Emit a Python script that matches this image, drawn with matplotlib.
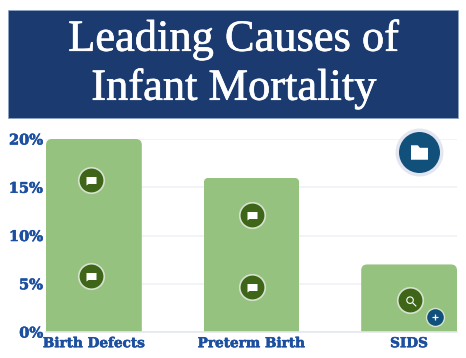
#!/usr/bin/env python3
"""Leading causes of infant mortality, bar chart under a navy header."""
import matplotlib
matplotlib.use("Agg")
import matplotlib.pyplot as plt
import matplotlib.patheffects as pe
from matplotlib.patches import FancyBboxPatch, Rectangle
from matplotlib.path import Path

W, H = 466, 358

causes = ["Birth Defects", "Preterm Birth", "SIDS"]
rates = [20, 16, 7]
y_ticks = [0, 5, 10, 15, 20]
y_labels = ["0%", "5%", "10%", "15%", "20%"]

# annotation badges sitting on the bars
note_x = [-0.02, -0.02, 1, 1]
note_y = [15.75, 5.8, 12.1, 4.65]
search_x, search_y = [2.006], [3.3]
plus_x, plus_y = [2.167], [1.55]
folder_x, folder_y = [2.063], [18.65]

BAR = "#95c27f"
GREEN = "#3f6518"
NAVY = "#12507c"
HEADER = "#1a3a70"
TICK = "#1c4fa0"

# small icon shapes, used as scatter markers
NOTE_ICON = Path([(-1, 0.7), (1, 0.7), (1, -0.7), (-0.6, -0.7), (-1, -1), (-1, 0.7)], closed=True)
FOLDER_ICON = Path([(-1, -0.85), (1, -0.85), (1, 0.55), (0.05, 0.55), (-0.2, 0.85), (-1, 0.85), (-1, -0.85)],
                   closed=True)
HANDLE_ICON = Path([(0.42, -0.42), (1, -1)])

fig = plt.figure(figsize=(W / 100, H / 100), dpi=100, facecolor="white")

# header band
fig.add_artist(Rectangle((7.5 / W, 1 - 118 / H), 450 / W, 108 / H, transform=fig.transFigure,
                         facecolor=HEADER, edgecolor="#8ea3c2", linewidth=0.6))
title = fig.text(234 / W, 1 - 64 / H, "Leading Causes of\nInfant Mortality", color="white",
                 family="Liberation Serif", fontsize=32, ha="center", va="center", linespacing=1.29)
title.set_path_effects([pe.withStroke(linewidth=0.5, foreground="white")])

ax = fig.add_axes([46 / W, 1 - 332 / H, 411 / W, 193 / H])
ax.set_xlim(-0.304, 2.304)
ax.set_ylim(0, 20)
ax.patch.set_alpha(0)
for s in ["top", "right", "left"]:
    ax.spines[s].set_visible(False)
ax.spines["bottom"].set_color("#e4e7ee")
ax.spines["bottom"].set_linewidth(1.2)

ax.set_yticks(y_ticks)
ax.set_yticklabels(y_labels)
ax.set_xticks(range(len(causes)))
ax.set_xticklabels(causes)
ax.tick_params(length=0, labelcolor=TICK, labelsize=10.5)
ax.tick_params(axis="x", pad=3, labelsize=9.8)
ax.tick_params(axis="y", pad=2)
for t in ax.get_xticklabels() + ax.get_yticklabels():
    t.set_family("DejaVu Serif")
    t.set_fontweight("bold")
    t.set_path_effects([pe.withStroke(linewidth=0.4, foreground=TICK)])
ax.grid(axis="y", color="#f0f1f5", linewidth=1.2, zorder=0)
ax.set_axisbelow(True)

bars = ax.bar(range(len(causes)), rates, width=0.608, color=BAR, zorder=2)

# round the top corners by clipping each bar, size in pixels
fig.canvas.draw()
for b in bars:
    (x0, y0), (x1, y1) = ax.transData.transform([(b.get_x(), 0), (b.get_x() + b.get_width(), b.get_height())])
    clip = FancyBboxPatch((x0 + 6, y0 - 20), x1 - x0 - 12, y1 - y0 + 14, boxstyle="round,pad=6",
                          transform=None)
    b.set_clip_path(clip)

# badges
ax.scatter(note_x, note_y, s=337, color=GREEN, edgecolor="#d5e3ce", linewidth=1.2, zorder=4, clip_on=False)
ax.scatter(note_x, note_y, s=52, marker=NOTE_ICON, color="white", linewidth=0, zorder=5)
ax.scatter(search_x, search_y, s=337, color=GREEN, edgecolor="#d5e3ce", linewidth=1.2, zorder=4)
ax.scatter(search_x, search_y, s=22, facecolor="none", edgecolor="white", linewidth=0.8, zorder=5)
ax.scatter(search_x, search_y, s=80, marker=HANDLE_ICON, facecolor="none", edgecolor="white", linewidth=0.8, zorder=5)
ax.scatter(plus_x, plus_y, s=168, color=NAVY, edgecolor="#d5e3ce", linewidth=1, zorder=6)
ax.scatter(plus_x, plus_y, s=22, marker="+", color="white", linewidth=0.9, zorder=7)
ax.scatter(folder_x, folder_y, s=1025, color=NAVY, edgecolor="#e3e6f0", linewidth=2.5, zorder=4, clip_on=False)
ax.scatter(folder_x, folder_y, s=150, marker=FOLDER_ICON, color="white", linewidth=0, zorder=5)

fig.savefig("out.png", dpi=100)
